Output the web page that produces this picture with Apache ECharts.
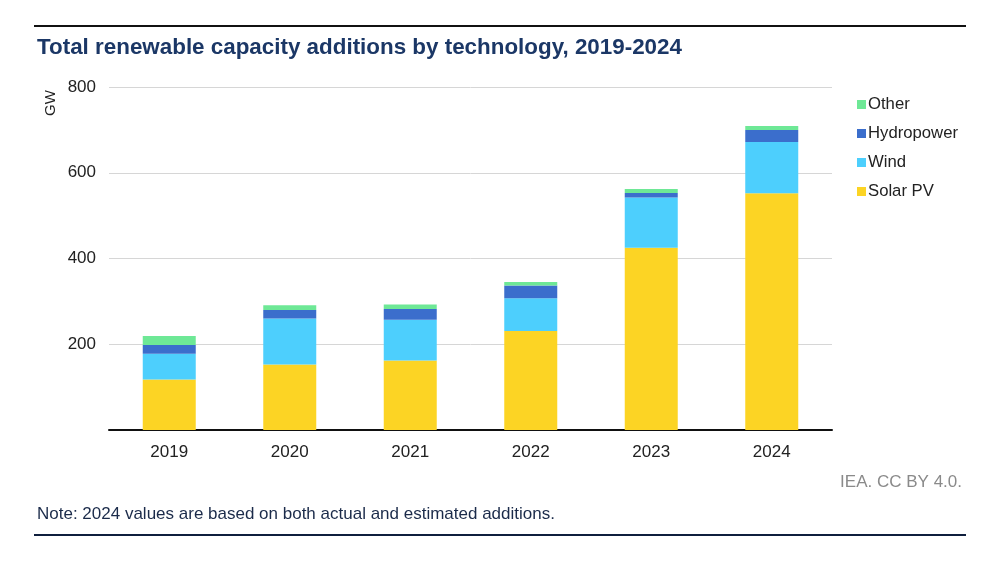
<!DOCTYPE html>
<html>
<head>
<meta charset="utf-8">
<script src="https://cdn.jsdelivr.net/npm/echarts@6/dist/echarts.min.js"></script>
<style>
  html, body { margin: 0; padding: 0; background: #fff; }
  #main { width: 1000px; height: 563px; }
</style>
</head>
<body>
<div id="main"></div>
<script>
// data (GW)
var years = ['2019', '2020', '2021', '2022', '2023', '2024'];
var solarPV = [118, 153, 162, 231, 425, 552];
var wind = [60, 107, 95, 76, 117, 120];
var hydropower = [20, 20, 25, 30, 11, 28];
var other = [21, 11, 11, 8, 9, 9];
var yTicks = [200, 400, 600, 800];

var chart = echarts.init(document.getElementById('main'));
var font = 'Liberation Sans, Arial, Helvetica, sans-serif';

function barSeries(name, data, color) {
    return {
        name: name,
        type: 'bar',
        stack: 'total',
        data: data,
        barWidth: 53,
        itemStyle: { color: color },
        emphasis: { disabled: true }
    };
}

var option = {
    backgroundColor: '#fff',
    textStyle: { fontFamily: font },
    animation: false,
    title: {
        text: 'Total renewable capacity additions by technology, 2019-2024',
        left: 32,
        top: 32,
        textStyle: { color: '#1b3766', fontSize: 22.4, fontWeight: 'bold', fontFamily: font }
    },
    legend: {
        data: ['Other', 'Hydropower', 'Wind', 'Solar PV'],
        orient: 'vertical',
        left: 852,
        top: 91,
        itemWidth: 9,
        itemHeight: 9,
        itemGap: 12,
        icon: 'rect',
        textStyle: { fontSize: 16.7, color: '#222', padding: [0, 0, 0, -3] }
    },
    grid: { left: 109, right: 168, top: 87, bottom: 133 },
    xAxis: {
        type: 'category',
        data: years,
        axisTick: { show: false },
        axisLine: { lineStyle: { color: '#111', width: 2 } },
        axisLabel: { fontSize: 17, color: '#222', margin: 14 }
    },
    yAxis: {
        type: 'value',
        min: 0,
        max: 800,
        interval: 200,
        axisLine: { show: false },
        axisTick: { show: false },
        splitLine: { lineStyle: { color: '#d6d6d6', width: 1 } },
        axisLabel: {
            fontSize: 17,
            color: '#222',
            margin: 13,
            formatter: function (v) { return yTicks.indexOf(v) >= 0 ? String(v) : ''; }
        }
    },
    graphic: [
        { type: 'line', shape: { x1: 34, y1: 26, x2: 966, y2: 26 }, style: { stroke: '#111', lineWidth: 2 } },
        { type: 'line', shape: { x1: 34, y1: 535, x2: 966, y2: 535 }, style: { stroke: '#0f1f3d', lineWidth: 2 } },
        { type: 'text', x: 51, y: 103, rotation: Math.PI / 2, style: { text: 'GW', fill: '#222', font: '15px ' + font, textAlign: 'center', textVerticalAlign: 'middle' } },
        { type: 'text', right: 38, top: 474, style: { text: 'IEA. CC BY 4.0.', fill: '#8a8a8a', font: '17px ' + font } },
        { type: 'text', left: 37, top: 506, style: { text: 'Note: 2024 values are based on both actual and estimated additions.', fill: '#1b2b4a', font: '17px ' + font } }
    ],
    series: [
        barSeries('Solar PV', solarPV, '#fcd424'),
        barSeries('Wind', wind, '#4dcffd'),
        barSeries('Hydropower', hydropower, '#3b6ecc'),
        barSeries('Other', other, '#6ee896')
    ]
};

chart.setOption(option);
</script>
</body>
</html>
